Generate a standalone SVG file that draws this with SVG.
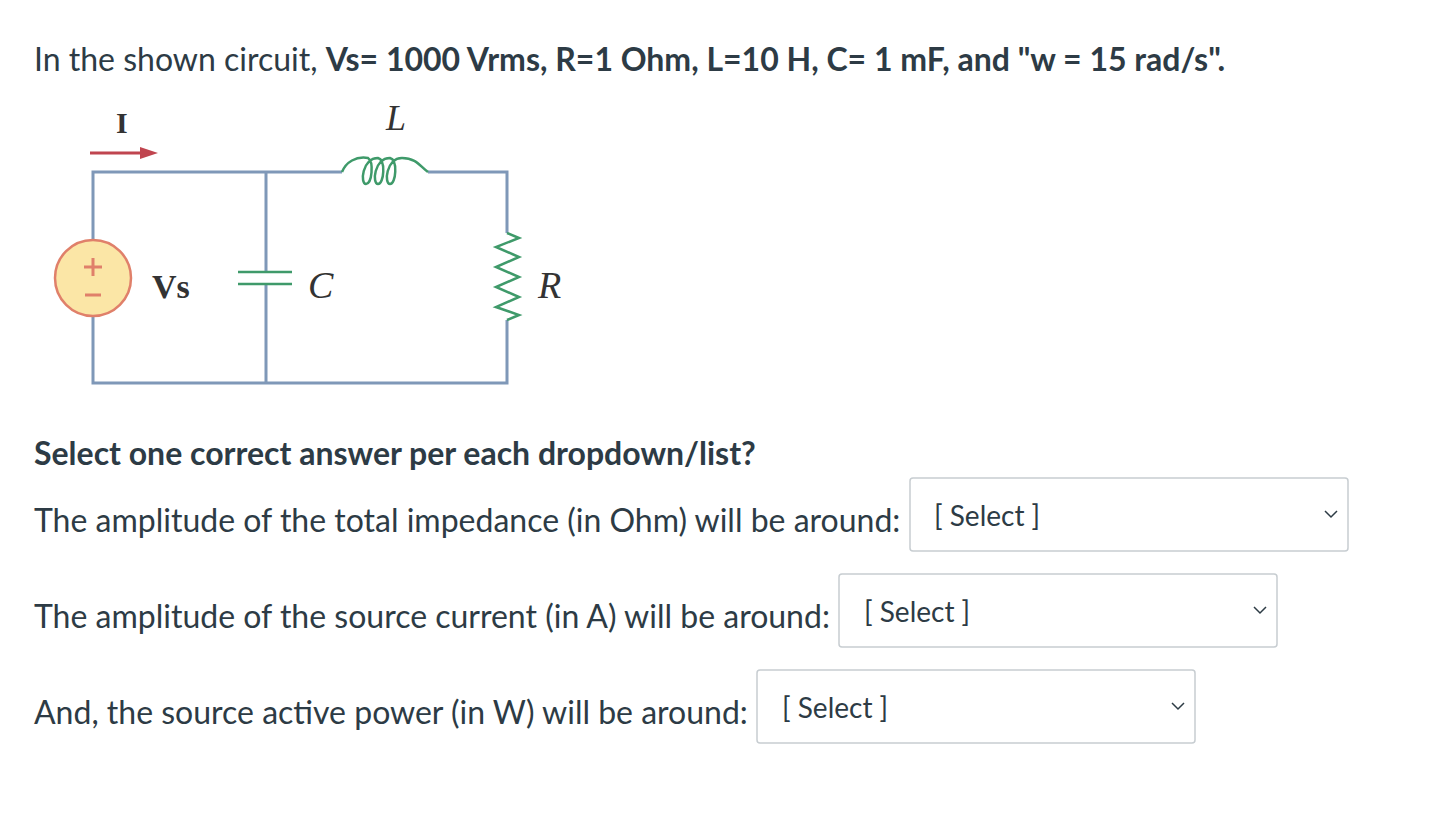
<svg xmlns="http://www.w3.org/2000/svg" width="1456" height="826" viewBox="0 0 1456 826">
<style>
.t{font-family:Lato,"Open Sans",sans-serif;font-size:32px;fill:#2d3b45}
.b{font-weight:bold}
.w{fill:none;stroke:#7f98b8;stroke-width:3}
.g{fill:none;stroke:#3f9a6a;stroke-width:2.5}
.s{font-family:"Liberation Serif",serif;fill:#333}
.dd{fill:#fff;stroke:#c7cdd1;stroke-width:1.5}
.sel{font-family:Lato,sans-serif;font-size:28px;fill:#2d3b45}
.ch{fill:none;stroke:#2d3b45;stroke-width:1.5}
</style>
<rect width="1456" height="826" fill="#fff"/>
<text class="t" x="34" y="71">In the shown circuit, <tspan class="b">Vs= 1000 Vrms, R=1 Ohm, L=10 H, C= 1 mF, and "w = 15 rad/s".</tspan></text>
<g id="connectors">
<path class="w" d="M93 240V172H342M428 172H507V233M507 320V383H93V316M266 172V272M266 284V383"/>
<path d="M90 153H142" stroke="#c0454f" stroke-width="3"/>
<path d="M140 147L158 153L140 159Z" fill="#c0454f"/>
</g>
<g id="source"><circle cx="93" cy="278" r="38" fill="#fbe6a6" stroke="#e0806a" stroke-width="2.5"/>
<path d="M93 258V276M84 267H102M85 295H101" stroke="#e0806a" stroke-width="3"/>
<text class="s" x="152" y="298" font-size="34" font-weight="bold">Vs</text></g>
<g id="cap"><path class="g" d="M238 272H292M238 284H292"/><text class="s" x="308" y="298" font-size="38" font-style="italic">C</text></g>
<g id="ind"><path class="g" d="M342 172C346 162 356 156 368 158C374 162 372 184 366 184C360 184 362 158 378 158C386 160 384 184 378 184C372 184 374 158 390 158C398 160 396 184 390 184C384 184 386 158 402 158C416 158 420 166 428 172"/><text class="s" x="386" y="130" font-size="36" font-style="italic">L</text>
<text class="s" x="116" y="133" font-size="30" font-weight="bold">I</text></g>
<g id="res"><path class="g" d="M507 233L519 238L496 247L519 257L496 267L519 277L496 287L519 297L496 307L519 315L507 320"/><text class="s" x="538" y="298" font-size="38" font-style="italic">R</text></g>
<text class="t b" x="34" y="465">Select one correct answer per each dropdown/list?</text>
<text class="t" x="34" y="532">The amplitude of the total impedance (in Ohm) will be around:</text>
<text class="t" x="34" y="628">The amplitude of the source current (in A) will be around:</text>
<text class="t" x="34" y="724">And, the source active power (in W) will be around:</text>
<g id="dd1"><rect class="dd" x="910" y="478" width="438" height="73" rx="3"/><text class="sel" x="934" y="526">[ Select ]</text><path class="ch" d="M1325 511l6 6l6-6"/></g>
<g id="dd2"><rect class="dd" x="839" y="574" width="438" height="73" rx="3"/><text class="sel" x="864" y="622">[ Select ]</text><path class="ch" d="M1254 607l6 6l6-6"/></g>
<g id="dd3"><rect class="dd" x="757" y="670" width="438" height="73" rx="3"/><text class="sel" x="782" y="718">[ Select ]</text><path class="ch" d="M1172 703l6 6l6-6"/></g>
</svg>
